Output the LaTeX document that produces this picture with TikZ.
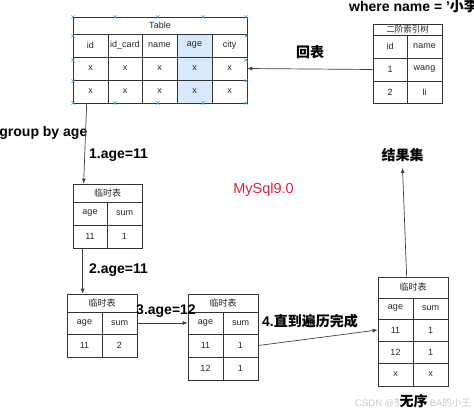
\documentclass[tikz,border=0pt]{standalone}
\usepackage{fontspec}
\setmainfont{Liberation Sans}
\newfontfamily\cjk{Noto Sans CJK SC}
\usetikzlibrary{arrows.meta,calc}
\definecolor{cellblue}{HTML}{DAE8FC}
\definecolor{hdl}{HTML}{3AA5DC}
\definecolor{mysqlred}{HTML}{E0203C}
\definecolor{wmgray}{HTML}{CACACA}
\tikzset{
  cell/.style={draw=black!80, line width=0.7pt, inner sep=0pt, text=black!85,
               font=\fontsize{9}{10}\selectfont},
  lbl/.style={font=\fontsize{14}{16}\selectfont\bfseries, inner sep=0pt, text=black},
  conn/.style={draw=black!75, line width=0.7pt, -{Latex[length=5pt,width=4pt]}},
  hmark/.style={draw=hdl, line width=0.6pt},
}
\newcommand\cellat[6]{\node[cell, minimum width=#4pt, minimum height=#5pt] (#1) at (#2,#3) {#6};}
\begin{document}
\begin{tikzpicture}[x=1pt,y=-1pt]
\useasboundingbox (0,0) rectangle (474,413);
\clip (0,0) rectangle (474,413);
\fill[white] (0,0) rectangle (474,413);

% ---------- main table ----------
\cellat{Tt}{160}{25.5}{174}{17}{Table}
\cellat{Th1}{90.5}{45.5}{35}{23}{id}
\cellat{Th2}{125}{45.5}{34}{23}{id\_card}
\cellat{Th3}{159.5}{45.5}{35}{23}{name}
\node[cell, fill=cellblue, minimum width=35pt, minimum height=23pt] (Th4) at (194.5,45.5) {age};
\cellat{Th5}{229.5}{45.5}{35}{23}{city}
\cellat{Ta1}{90.5}{68.5}{35}{23}{x}
\cellat{Ta2}{125}{68.5}{34}{23}{x}
\cellat{Ta3}{159.5}{68.5}{35}{23}{x}
\node[cell, fill=cellblue, minimum width=35pt, minimum height=23pt] (Ta4) at (194.5,68.5) {x};
\cellat{Ta5}{229.5}{68.5}{35}{23}{x}
\cellat{Tb1}{90.5}{91.5}{35}{23}{x}
\cellat{Tb2}{125}{91.5}{34}{23}{x}
\cellat{Tb3}{159.5}{91.5}{35}{23}{x}
\node[cell, fill=cellblue, minimum width=35pt, minimum height=23pt] (Tb4) at (194.5,91.5) {x};
\cellat{Tb5}{229.5}{91.5}{35}{23}{x}
% selection handles
\foreach \x in {73,115,158,203,246}{
  \foreach \y in {17,103}{
    \draw[hmark] (\x-1.6,\y-1.6) -- (\x+1.6,\y+1.6) (\x-1.6,\y+1.6) -- (\x+1.6,\y-1.6);
  }}
\foreach \y in {36,60,81}{
  \foreach \x in {73,246}{
    \draw[hmark] (\x-1.6,\y-1.6) -- (\x+1.6,\y+1.6) (\x-1.6,\y+1.6) -- (\x+1.6,\y-1.6);
  }}

% ---------- index table ----------
\node[cell, minimum width=69pt, minimum height=11pt, font=\fontsize{8.5}{9}\selectfont\cjk] (It) at (407.5,29.5) {二阶索引树};
\cellat{Ih1}{390}{46.5}{34}{23}{id}
\cellat{Ih2}{424.5}{46.5}{35}{23}{name}
\cellat{Ia1}{390}{69.5}{34}{23}{1}
\cellat{Ia2}{424.5}{69.5}{35}{23}{wang}
\cellat{Ib1}{390}{92}{34}{22}{2}
\cellat{Ib2}{424.5}{92}{35}{22}{li}

% ---------- temp table 1 ----------
\node[cell, minimum width=69pt, minimum height=18pt, font=\fontsize{9}{10}\selectfont\cjk] (At) at (107.5,193) {临时表};
\cellat{Ah1}{90}{213.5}{34}{23}{age}
\cellat{Ah2}{124.5}{213.5}{35}{23}{sum}
\cellat{Aa1}{90}{236.5}{34}{23}{11}
\cellat{Aa2}{124.5}{236.5}{35}{23}{1}

% ---------- temp table 2 ----------
\node[cell, minimum width=70pt, minimum height=18pt, font=\fontsize{9}{10}\selectfont\cjk] (Bt) at (102,303) {临时表};
\cellat{Bh1}{84.5}{323}{35}{22}{age}
\cellat{Bh2}{119.5}{323}{35}{22}{sum}
\cellat{Ba1}{84.5}{345.5}{35}{23}{11}
\cellat{Ba2}{119.5}{345.5}{35}{23}{2}

% ---------- temp table 3 ----------
\node[cell, minimum width=70pt, minimum height=18pt, font=\fontsize{9}{10}\selectfont\cjk] (Ct) at (223,303) {临时表};
\cellat{Ch1}{205.5}{323}{35}{22}{age}
\cellat{Ch2}{240.5}{323}{35}{22}{sum}
\cellat{Ca1}{205.5}{345.5}{35}{23}{11}
\cellat{Ca2}{240.5}{345.5}{35}{23}{1}
\cellat{Cb1}{205.5}{368.5}{35}{23}{12}
\cellat{Cb2}{240.5}{368.5}{35}{23}{1}

% ---------- temp table 4 ----------
\node[cell, minimum width=70pt, minimum height=21pt, font=\fontsize{9}{10}\selectfont\cjk] (Dt) at (413,287.5) {临时表};
\cellat{Dh1}{395.5}{308.5}{35}{21}{age}
\cellat{Dh2}{430.5}{308.5}{35}{21}{sum}
\cellat{Da1}{395.5}{330}{35}{22}{11}
\cellat{Da2}{430.5}{330}{35}{22}{1}
\cellat{Db1}{395.5}{352}{35}{22}{12}
\cellat{Db2}{430.5}{352}{35}{22}{1}
\cellat{Dc1}{395.5}{374.5}{35}{23}{x}
\cellat{Dc2}{430.5}{374.5}{35}{23}{x}

% ---------- labels ----------
\node[lbl, anchor=base west] (where) at (349,11) {where name = '{\cjk 小李}'};
\node[lbl, font=\fontsize{14}{16}\selectfont\bfseries\cjk] (huibiao) at (310,52) {回表};
\node[lbl, anchor=east] (groupby) at (87.5,133) {group by age};
\node[lbl] (l1) at (118.5,155) {1.age=11};
\node[lbl] (l2) at (118.5,270) {2.age=11};
\node[lbl] (l3) at (166,311.5) {3.age=12};
\node[lbl] (l4) at (310,321) {4.{\cjk 直到遍历完成}};
\node[lbl, font=\fontsize{14}{16}\selectfont\bfseries\cjk] (result) at (402.5,155) {结果集};
\node[inner sep=0pt, text=mysqlred, font=\fontsize{14.5}{16}\selectfont] (mysql) at (263.5,190) {MySql9.0};
\node[inner sep=0pt, text=wmgray, anchor=west, font=\fontsize{9.5}{11}\selectfont] (wm) at (355,403.5) {CSDN @{\cjk 努力的}DBA{\cjk 的小王}};
\node[lbl, fill=white, inner sep=1pt, font=\fontsize{14}{16}\selectfont\bfseries\cjk] (wuxu) at (413.5,401) {无序};

% ---------- connectors ----------
\draw[conn] (Ia1.west) -- (Ta5.east);
\draw[conn] ($(Tb1.south west)+(14,0)$) -- ($(At.north west)+(11,0)$);
\draw[conn] ($(Aa1.south west)+(10,0)$) -- ($(Bt.north west)+(16,0)$);
\draw[conn] (Bh2.east) -- (Ch1.west);
\draw[conn] (Ca2.east) -- (Da1.west);
\draw[conn] ($(Dt.north west)+(29,0)$) -- ($(result.south)+(0,6)$);
\end{tikzpicture}
\end{document}
